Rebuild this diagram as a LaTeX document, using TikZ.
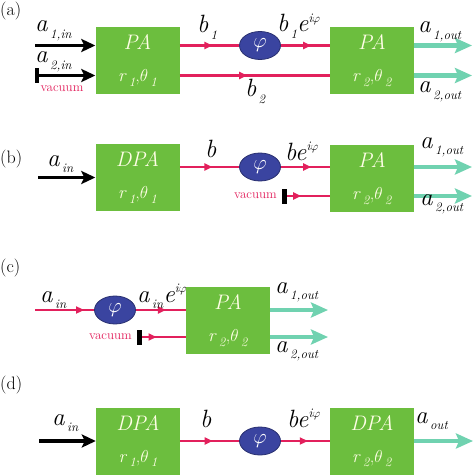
\documentclass[tikz,border=0pt]{standalone}
\usepackage{fontspec}
\usetikzlibrary{arrows.meta,decorations.markings,shapes.geometric}
\definecolor{ampgreen}{RGB}{108,190,62}
\definecolor{beamred}{RGB}{226,32,92}
\definecolor{outteal}{RGB}{112,210,176}
\definecolor{phiblue}{RGB}{58,68,160}
\newcommand{\sbs}[1]{\raisebox{-0.6ex}{\fontsize{13}{13}\selectfont\,\textit{#1}}}
\newcommand{\sps}[1]{\raisebox{0.9ex}{\fontsize{13}{13}\selectfont\textit{#1}}}
\newcommand{\ph}{$\varphi$}
\newcommand{\ampt}[3]{\textit{#1}\\[8pt]{\fontsize{18}{18}\selectfont\textit{r}\sbs{#2},$\theta$\sbs{#3}}}

\begin{document}
\begin{tikzpicture}
  [x=1pt,y=-1pt,every node/.style={inner sep=0pt},
   flow/.style={draw=beamred,color=beamred,line width=2.4pt,postaction={decorate},
     decoration={markings,mark=at position #1 with {\arrow{Triangle[length=8pt,width=7pt]}}}},
   flow/.default=.55]
  \tikzstyle{amp} = [fill=ampgreen,minimum width=84pt,minimum height=67pt,align=center,
    text=white!90!yellow,font=\fontsize{21}{24}\selectfont]
  \tikzstyle{phase} = [ellipse,fill=phiblue,draw=phiblue!70!black,line width=0.8pt,
    minimum width=41pt,minimum height=28pt,text=white,font=\fontsize{20}{20}\selectfont]
  \tikzstyle{inarrow} = [draw=black,line width=3.5pt,-{Stealth[length=14pt,width=13pt,inset=3pt]}]
  \tikzstyle{outarrow} = [draw=outteal,line width=4.5pt,-{Stealth[length=17pt,width=15pt,inset=3pt]}]
  \tikzstyle{lbl} = [anchor=base west,font=\fontsize{25}{25}\selectfont]
  \tikzstyle{vac} = [text=beamred,font=\fontsize{13}{13}\selectfont]
  \tikzstyle{tag} = [anchor=west,font=\fontsize{18}{18}\selectfont]
  \tikzstyle{vacbar} = [{Bar[color=black,width=15pt,line width=5pt]}-]
  \useasboundingbox (0,0) rectangle (474,476);

  % (a)
  \node[tag] (ta) at (0,11) {(a)};
  \node[amp] (a1) at (137.5,60.5) {\ampt{PA}{1}{1}};
  \node[amp] (a2) at (372,60.5) {\ampt{PA}{2}{2}};
  \node[phase] (aphi) at (260,45.5) {\ph};
  \coordinate (ain1) at (35,45.5);
  \coordinate (ain2) at (35,75.5);
  \coordinate (aout1) at (472,45.5);
  \coordinate (aout2) at (472,75.5);
  \draw[inarrow] (ain1) -- (a1.west |- ain1);
  \draw[inarrow,{Bar[width=15pt,line width=4pt]}-{Stealth[length=14pt,width=13pt,inset=3pt]}] (ain2) -- (a1.west |- ain2);
  \draw[flow] (a1.east |- aphi) -- (aphi);
  \draw[flow=.62] (aphi) -- (a2.west |- aphi);
  \draw[flow=.45] (a1.east |- ain2) -- (a2.west |- ain2);
  \draw[outarrow] (a2.east |- aout1) -- (aout1);
  \draw[outarrow] (a2.east |- aout2) -- (aout2);
  \node[lbl] (la1) at (35,32) {\textit{a}\sbs{1,in}};
  \node[lbl] (la2) at (35,63) {\textit{a}\sbs{2,in}};
  \node[vac] (va) at (62,89) {vacuum};
  \node[lbl] (lb1) at (197,33) {\textit{b}\sbs{1}};
  \node[lbl] (lb1e) at (277,32) {\textit{b}\sbs{1}\textit{e}\sps{i\ph}};
  \node[lbl] (lb2) at (245,97) {\textit{b}\sbs{2}};
  \node[lbl] (lao1) at (418,33) {\textit{a}\sbs{1,out}};
  \node[lbl] (lao2) at (418,93) {\textit{a}\sbs{2,out}};

  % (b)
  \node[tag] (tb) at (0,159) {(b)};
  \node[amp] (b1) at (137.5,177.5) {\ampt{DPA}{1}{1}};
  \node[amp] (b2) at (372,178.5) {\ampt{PA}{2}{2}};
  \node[phase] (bphi) at (260,167) {\ph};
  \coordinate (bin) at (38,177.5);
  \coordinate (bvac) at (282,196);
  \coordinate (bout1) at (472,167);
  \coordinate (bout2) at (472,196);
  \draw[inarrow] (bin) -- (b1.west);
  \draw[flow] (b1.east |- bphi) -- (bphi);
  \draw[flow=.62] (bphi) -- (b2.west |- bphi);
  \draw[flow=.4,vacbar] (bvac) -- (b2.west |- bvac);
  \draw[outarrow] (b2.east |- bout1) -- (bout1);
  \draw[outarrow] (b2.east |- bout2) -- (bout2);
  \node[lbl] (lbin) at (47,166) {\textit{a}\sbs{in}};
  \node[lbl] (lbb) at (205,157) {\textit{b}};
  \node[lbl] (lbbe) at (285,160) {\textit{be}\sps{i\ph}};
  \node[vac,anchor=east] (vb) at ([xshift=-5pt]bvac) {vacuum};
  \node[lbl] (lbo1) at (420,148) {\textit{a}\sbs{1,out}};
  \node[lbl] (lbo2) at (420,205) {\textit{a}\sbs{2,out}};

  % (c)
  \node[tag] (tc) at (0,268) {(c)};
  \node[amp] (c2) at (228,320.5) {\ampt{PA}{2}{2}};
  \node[phase] (cphi) at (115,310) {\ph};
  \coordinate (cin) at (35,310);
  \coordinate (cvac) at (137,337);
  \coordinate (cout1) at (328,310);
  \coordinate (cout2) at (328,337);
  \draw[flow=.83] (cin) -- (cphi);
  \draw[flow=.6] (cphi) -- (c2.west |- cphi);
  \draw[flow=.4,vacbar] (cvac) -- (c2.west |- cvac);
  \draw[outarrow] (c2.east |- cout1) -- (cout1);
  \draw[outarrow] (c2.east |- cout2) -- (cout2);
  \node[lbl] (lcin) at (40,302) {\textit{a}\sbs{in}};
  \node[lbl] (lce) at (137,302) {\textit{a}\sbs{in}\textit{e}\sps{i\ph}};
  \node[vac,anchor=east] (vc) at ([xshift=-5pt]cvac) {vacuum};
  \node[lbl] (lco1) at (275,293) {\textit{a}\sbs{1,out}};
  \node[lbl] (lco2) at (275,352) {\textit{a}\sbs{2,out}};

  % (d)
  \node[tag] (td) at (0,385) {(d)};
  \node[amp] (d1) at (138,441) {\ampt{DPA}{1}{1}};
  \node[amp] (d2) at (372,441) {\ampt{DPA}{2}{2}};
  \node[phase] (dphi) at (260,441) {\ph};
  \coordinate (din) at (39,441);
  \coordinate (dout) at (473,441);
  \draw[inarrow] (din) -- (d1);
  \draw[flow] (d1) -- (dphi);
  \draw[flow] (dphi) -- (d2);
  \draw[outarrow] (d2) -- (dout);
  \node[lbl] (ldin) at (52,425) {\textit{a}\sbs{in}};
  \node[lbl] (ldb) at (200,427) {\textit{b}};
  \node[lbl] (ldbe) at (287,427) {\textit{be}\sps{i\ph}};
  \node[lbl] (ldo) at (415,423) {\textit{a}\sbs{out}};
\end{tikzpicture}
\end{document}
